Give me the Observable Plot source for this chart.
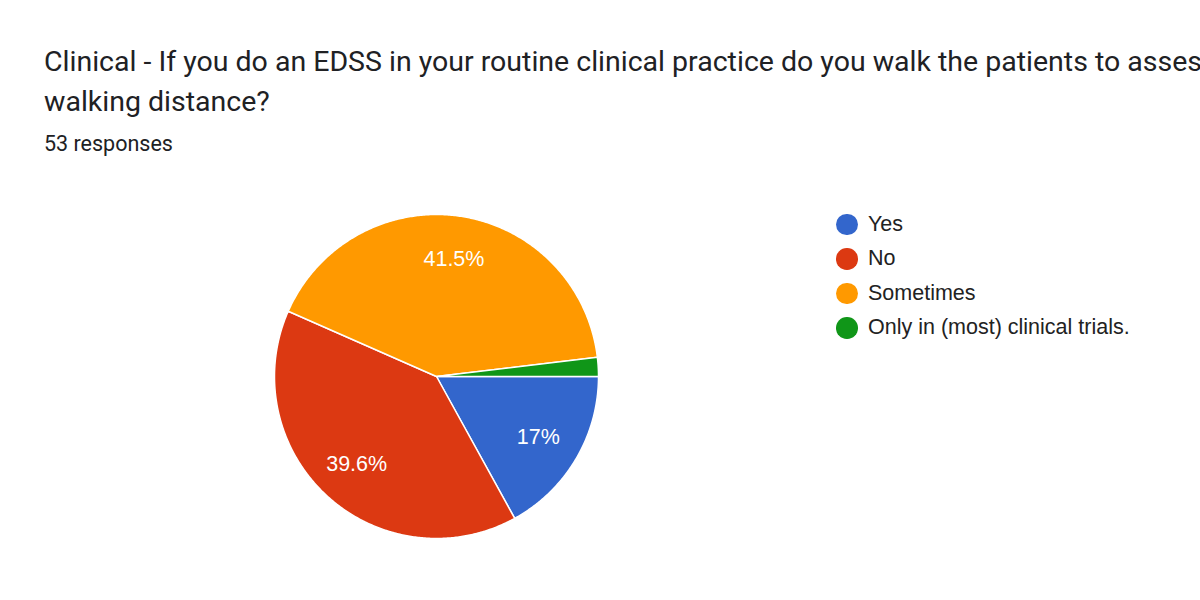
<!DOCTYPE html>
<html>
<head>
<meta charset="utf-8">
<script src="https://cdn.jsdelivr.net/npm/d3@7"></script>
<script src="https://cdn.jsdelivr.net/npm/@observablehq/plot@0.6"></script>
<style>
  html, body { margin: 0; padding: 0; background: #fff; }
  body { width: 1200px; height: 600px; overflow: hidden; position: relative; font-family: Roboto, "Liberation Sans", Arial, sans-serif; }
  #head { position: absolute; left: 44px; top: 0; width: 1156px; height: 170px; overflow: hidden; white-space: nowrap; color: #202124; }
  .t { font-size: 28.5px; line-height: 40px; }
  #t1 { position: absolute; top: 42px; }
  #t2 { position: absolute; top: 82px; }
  #sub { position: absolute; top: 129px; font-size: 21.5px; line-height: 30px; }
  #chart { position: absolute; left: 0; top: 170px; }
  #legend { position: absolute; left: 836px; top: 207px; font-family: "Liberation Sans", Arial, sans-serif; font-size: 21.5px; color: #222; }
  .row { height: 34.5px; display: flex; align-items: center; }
  .sw { width: 21.5px; height: 21.5px; border-radius: 50%; margin-right: 10.5px; }
</style>
</head>
<body>
<div id="head">
  <div id="t1" class="t">Clinical - If you do an EDSS in your routine clinical practice do you walk the patients to assess</div>
  <div id="t2" class="t">walking distance?</div>
  <div id="sub">53 responses</div>
</div>
<div id="chart"></div>
<div id="legend"></div>
<script>
const categories = ["Yes", "No", "Sometimes", "Only in (most) clinical trials."];
const counts = [9, 21, 22, 1];
const colors = ["#3366cc", "#dc3912", "#ff9900", "#109618"];
const totalLabel = "53 responses";

const total = d3.sum(counts);
// wedge outlines derived from the counts (angles clockwise from 3 o'clock)
const pts = [];
const labels = [];
let acc = 0;
categories.forEach((c, i) => {
  const a0 = acc / total * 2 * Math.PI;
  acc += counts[i];
  const a1 = acc / total * 2 * Math.PI;
  pts.push({cat: c, x: 0, y: 0});
  const n = Math.max(2, Math.ceil((a1 - a0) / (Math.PI / 360)));
  for (let k = 0; k <= n; k++) {
    const a = a0 + (a1 - a0) * k / n;
    pts.push({cat: c, x: Math.cos(a), y: -Math.sin(a)});
  }
  pts.push({cat: c, x: 0, y: 0});
  const pct = counts[i] / total * 100;
  if (pct >= 5) {
    const am = (a0 + a1) / 2;
    labels.push({cat: c, x: 0.73 * Math.cos(am), y: -0.73 * Math.sin(am), text: (Math.round(pct * 10) / 10) + "%"});
  }
});

const cx = 436, r = 162, H = 430, cy = 206;
const plot = Plot.plot({
  width: 1200,
  height: H,
  marginLeft: cx - r,
  marginRight: 1200 - (cx + r),
  marginTop: cy - r,
  marginBottom: H - (cy + r),
  x: {domain: [-1, 1], axis: null},
  y: {domain: [-1, 1], axis: null},
  color: {domain: categories, range: colors},
  style: {background: "transparent"},
  marks: [
    Plot.line(pts, {x: "x", y: "y", z: "cat", fill: "cat", stroke: "white", strokeWidth: 1.5, strokeLinejoin: "round"}),
    Plot.text(labels, {x: "x", y: "y", text: "text", fill: "white", fontSize: 21.5, fontFamily: "Liberation Sans, Arial, sans-serif"})
  ]
});
document.getElementById("chart").appendChild(plot);

const lg = document.getElementById("legend");
categories.forEach((c, i) => {
  const row = document.createElement("div");
  row.className = "row";
  row.innerHTML = `<span class="sw" style="background:${colors[i]}"></span><span>${c}</span>`;
  lg.appendChild(row);
});
</script>
</body>
</html>
